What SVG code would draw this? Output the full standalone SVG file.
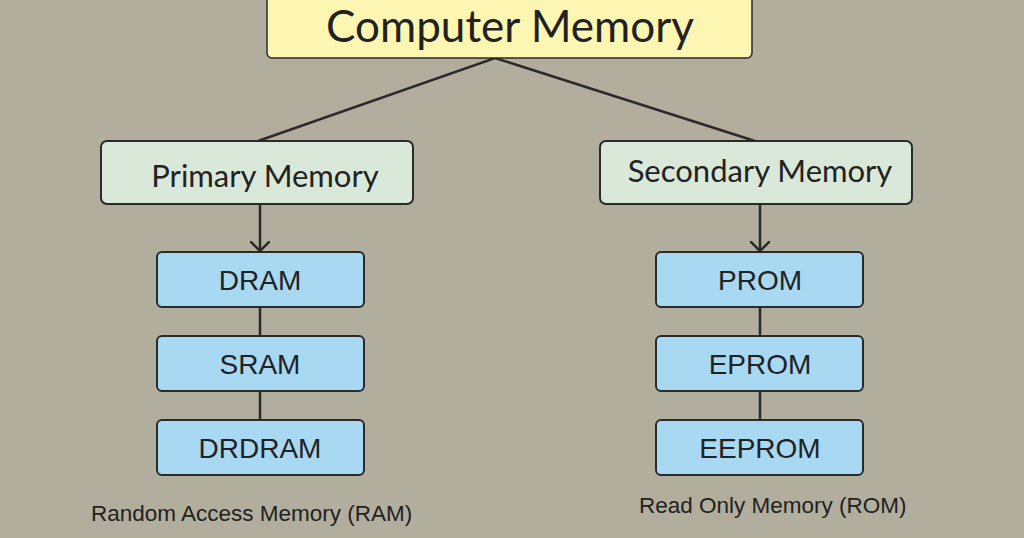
<svg xmlns="http://www.w3.org/2000/svg" width="1024" height="538" viewBox="0 0 1024 538">
<defs>
<style>
.ln{stroke:#2a2a2a;stroke-width:2.5;fill:none}
.top{fill:#fdf6b2;stroke:#2a2a2a;stroke-width:1.5}
.mid{fill:#d9e8d9;stroke:#2a2a2a;stroke-width:2}
.leaf{fill:#a8d8f2;stroke:#2a2a2a;stroke-width:2}
.t1{font-family:Lato,"Open Sans",sans-serif;fill:#222;text-anchor:middle}
.t2{font-family:"Liberation Sans",Arial,sans-serif;fill:#222;text-anchor:middle;font-size:28px}
.cap{font-family:"Liberation Sans",Arial,sans-serif;fill:#222;font-size:22.5px}
</style>
<marker id="ah" markerWidth="20" markerHeight="20" refX="10" refY="10" orient="auto" markerUnits="userSpaceOnUse"><path d="M0,0 L10,10 L0,20" fill="none" stroke="#2a2a2a" stroke-width="2.5"/></marker>
</defs>
<rect width="1024" height="538" fill="#b1ae9d"/>
<g id="connectors">
<path class="ln" d="M258,141 L495,58 L755,141"/>
<path class="ln" d="M260,204 V251" marker-end="url(#ah)"/>
<path class="ln" d="M760,204 V251" marker-end="url(#ah)"/>
<path class="ln" d="M260,307 V336 M260,391 V420 M760,307 V336 M760,391 V420"/>
</g>
<g id="computer-memory"><rect class="top" x="267" y="-6" width="485" height="64" rx="5"/><text class="t1" x="510" y="42" font-size="44">Computer Memory</text></g>
<g id="primary"><rect class="mid" x="101" y="141" width="312" height="63" rx="6"/><text class="t1" x="265" y="187" font-size="31">Primary Memory</text></g>
<g id="secondary"><rect class="mid" x="600" y="141" width="312" height="63" rx="6"/><text class="t1" x="760" y="182" font-size="31">Secondary Memory</text></g>
<g id="dram"><rect class="leaf" x="157" y="252" width="207" height="55" rx="5"/><text class="t2" x="260" y="290">DRAM</text></g>
<g id="sram"><rect class="leaf" x="157" y="336" width="207" height="55" rx="5"/><text class="t2" x="260" y="374">SRAM</text></g>
<g id="drdram"><rect class="leaf" x="157" y="420" width="207" height="55" rx="5"/><text class="t2" x="260" y="458">DRDRAM</text></g>
<g id="prom"><rect class="leaf" x="656" y="252" width="207" height="55" rx="5"/><text class="t2" x="760" y="290">PROM</text></g>
<g id="eprom"><rect class="leaf" x="656" y="336" width="207" height="55" rx="5"/><text class="t2" x="760" y="374">EPROM</text></g>
<g id="eeprom"><rect class="leaf" x="656" y="420" width="207" height="55" rx="5"/><text class="t2" x="760" y="458">EEPROM</text></g>
<text class="cap" x="91" y="521">Random Access Memory (RAM)</text>
<text class="cap" x="639" y="513">Read Only Memory (ROM)</text>
</svg>
